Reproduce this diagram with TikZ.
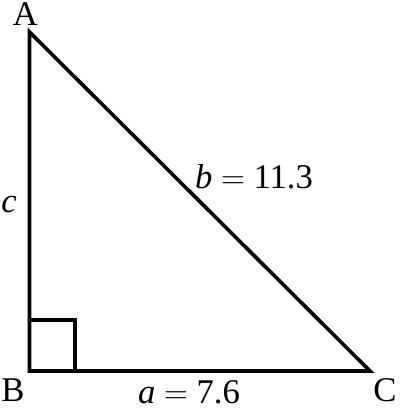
\documentclass[tikz,border=0pt]{standalone}
\usepackage{fontspec}
\setmainfont{Liberation Serif}
\begin{document}
\begin{tikzpicture}[x=0.75pt,y=0.75pt,yscale=-1,xscale=1,
  side/.style={line width=2.7pt,line join=miter},
  lbl/.style={anchor=base,inner sep=0.75pt,font=\fontsize{26}{31}\selectfont}]
\useasboundingbox (0,0) rectangle (400,409);

% Vertices
\coordinate (A) at (29.5,32);
\coordinate (B) at (29.5,371);
\coordinate (C) at (370,371);
% Right angle mark corners
\coordinate (sqL) at (29.5,319.7);
\coordinate (sqR) at (74.7,371);
\coordinate (sqT) at (74.7,319.7);

%Triangle
\draw [side] (A) -- (B) -- (C) -- cycle ;
%Right angle
\draw [side] (sqL) -- (sqT) -- (sqR) ;

% Text Node
\node [lbl] (lA) at (25.5,26) {A};
% Text Node
\node [lbl] (lB) at (13,401) {B};
% Text Node
\node [lbl] (lC) at (385,401) {C};
% Text Node
\node [lbl] (lc) at (9,212) {\textit{c}};
% Text Node
\node [lbl] (lb) at (254,189) {\textit{b} $=$ 11.3};
% Text Node
\node [lbl] (la) at (189,403) {\textit{a} $=$ 7.6};

\end{tikzpicture}
\end{document}
